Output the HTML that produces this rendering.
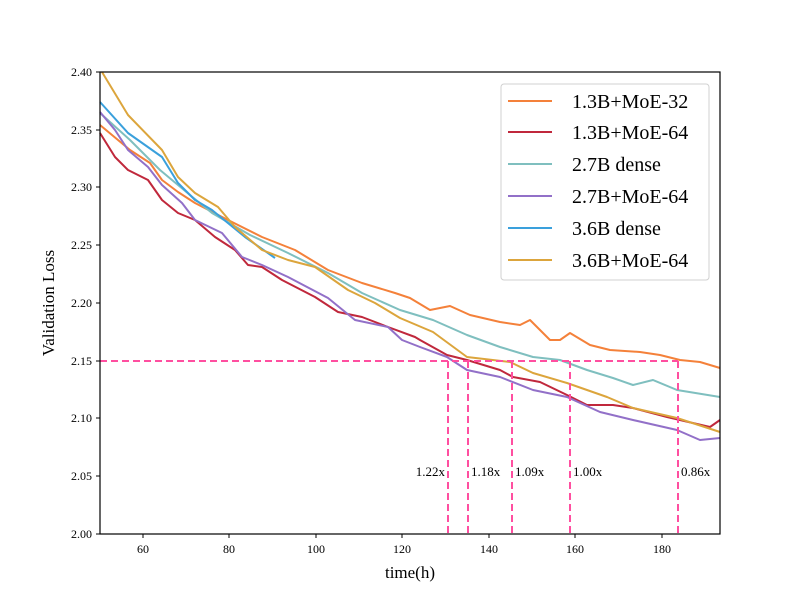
<!DOCTYPE html>
<html><head><meta charset="utf-8"><style>body{margin:0;background:#fff}svg{display:block;font-family:"Liberation Serif",serif}</style></head><body>
<svg width="800" height="600" xmlns="http://www.w3.org/2000/svg">
<rect width="800" height="600" fill="#fff"/>
<g fill="none" stroke-width="2" stroke-linejoin="round">
<polyline stroke="#f4813a" points="100,125 112,135 130,150 150,163 162,180 178,192 195,203 228,220 262,237 295,250 328,270 362,283 395,293 410,298 430,310 450,306 470,315 500,322 520,325 530,320 540,330 550,340 560,340 570,333 590,345 610,350 640,352 660,355 680,360 700,362 720,368"/>
<polyline stroke="#c0283c" points="100,133 115,157 128,170 148,180 162,200 178,213 195,220 215,237 235,250 248,265 262,267 282,280 315,297 338,312 362,317 388,327 415,337 420,340 447,355 467,360 500,370 513,377 540,382 567,395 587,405 613,405 633,408 667,417 710,427 720,420"/>
<polyline stroke="#7fbfbf" points="100,113 130,140 160,170 190,195 212,213 250,235 288,253 328,273 362,293 400,310 433,320 467,335 500,347 533,357 560,360 587,370 613,378 633,385 653,380 677,390 720,397"/>
<polyline stroke="#9270c8" points="100,112 115,130 128,150 148,167 162,185 182,203 195,220 222,233 242,257 262,265 288,277 328,298 355,320 388,327 402,340 420,347 447,357 467,370 500,377 533,390 567,397 600,412 633,420 677,430 700,440 720,438"/>
<polyline stroke="#3aa0dc" points="100,102 128,133 162,157 178,183 195,200 212,210 245,237 275,258"/>
<polyline stroke="#dca53c" points="102,72 128,115 162,150 178,177 195,193 218,207 235,227 262,250 288,260 315,267 348,290 375,303 400,318 433,332 467,357 510,362 533,373 567,383 607,397 633,408 677,418 720,432"/>
</g>
<g stroke="#ff4fa0" stroke-width="2" stroke-dasharray="7,4" fill="none">
<line x1="100" y1="361" x2="678" y2="361"/>
<line x1="448" y1="361" x2="448" y2="534"/><line x1="468" y1="361" x2="468" y2="534"/><line x1="512" y1="361" x2="512" y2="534"/><line x1="570" y1="361" x2="570" y2="534"/><line x1="678" y1="361" x2="678" y2="534"/>
</g>
<g font-size="13" fill="#000">
<text x="445" y="476" text-anchor="end">1.22x</text><text x="471" y="476">1.18x</text><text x="515" y="476">1.09x</text><text x="573" y="476">1.00x</text><text x="681" y="476">0.86x</text>
</g>
<rect x="100" y="72" width="620" height="462" fill="none" stroke="#000" stroke-width="1.2"/>
<g stroke="#000" stroke-width="1">
<line x1="100" y1="72" x2="96" y2="72"/><line x1="100" y1="130" x2="96" y2="130"/><line x1="100" y1="187" x2="96" y2="187"/><line x1="100" y1="245" x2="96" y2="245"/><line x1="100" y1="303" x2="96" y2="303"/><line x1="100" y1="361" x2="96" y2="361"/><line x1="100" y1="418" x2="96" y2="418"/><line x1="100" y1="476" x2="96" y2="476"/><line x1="100" y1="534" x2="96" y2="534"/>
<line x1="143" y1="534" x2="143" y2="538"/><line x1="229" y1="534" x2="229" y2="538"/><line x1="316" y1="534" x2="316" y2="538"/><line x1="402" y1="534" x2="402" y2="538"/><line x1="489" y1="534" x2="489" y2="538"/><line x1="575" y1="534" x2="575" y2="538"/><line x1="662" y1="534" x2="662" y2="538"/>
</g>
<g font-size="12" text-anchor="end">
<text x="92" y="76">2.40</text><text x="92" y="134">2.35</text><text x="92" y="191">2.30</text><text x="92" y="249">2.25</text><text x="92" y="307">2.20</text><text x="92" y="365">2.15</text><text x="92" y="422">2.10</text><text x="92" y="480">2.05</text><text x="92" y="538">2.00</text>
</g>
<g font-size="12" text-anchor="middle">
<text x="143" y="553">60</text><text x="229" y="553">80</text><text x="316" y="553">100</text><text x="402" y="553">120</text><text x="489" y="553">140</text><text x="575" y="553">160</text><text x="662" y="553">180</text>
</g>
<text x="410" y="578" font-size="17" text-anchor="middle">time(h)</text>
<text transform="translate(54,303) rotate(-90)" font-size="17" text-anchor="middle">Validation Loss</text>
<rect x="501" y="84" width="208" height="196" rx="3" fill="#fff" fill-opacity="0.85" stroke="#d0d0d0"/>
<g stroke-width="2">
<line x1="508" y1="101" x2="552" y2="101" stroke="#f4813a"/>
<line x1="508" y1="132" x2="552" y2="132" stroke="#c0283c"/>
<line x1="508" y1="164" x2="552" y2="164" stroke="#7fbfbf"/>
<line x1="508" y1="196" x2="552" y2="196" stroke="#9270c8"/>
<line x1="508" y1="228" x2="552" y2="228" stroke="#3aa0dc"/>
<line x1="508" y1="260" x2="552" y2="260" stroke="#dca53c"/>
</g>
<g font-size="20">
<text x="572" y="108">1.3B+MoE-32</text><text x="572" y="139">1.3B+MoE-64</text><text x="572" y="171">2.7B dense</text><text x="572" y="203">2.7B+MoE-64</text><text x="572" y="235">3.6B dense</text><text x="572" y="267">3.6B+MoE-64</text>
</g>
</svg>
</body></html>
